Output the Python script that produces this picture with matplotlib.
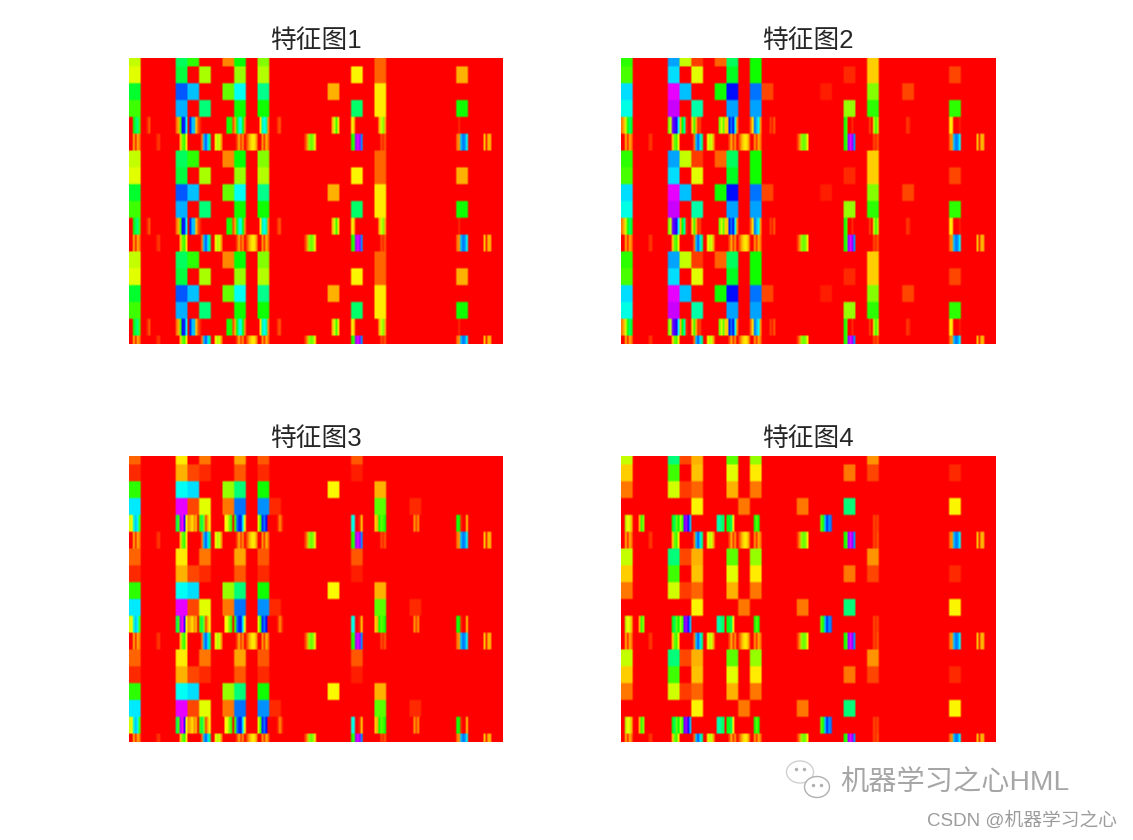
import numpy as np
import matplotlib
matplotlib.use('Agg')
import matplotlib.pyplot as plt
from matplotlib.patches import Ellipse

plt.rcParams['font.family'] = ['Liberation Sans', 'Noto Sans CJK SC']

titles = ['特征图1', '特征图2', '特征图3', '特征图4']

# feature maps repeat every 6 rows, first 4 rows are wide cells {column: value}
map1_wide = [
    {0: .21, 4: .40, 5: .31, 8: .09, 9: .34, 11: .25, 21: .07},
    {0: .19, 4: .38, 6: .23, 9: .24, 11: .22, 19: .165, 21: .07, 28: .12},
    {0: .37, 4: .62, 5: .55, 8: .27, 9: .50, 11: .43, 17: .12, 21: .16},
    {0: .30, 4: .56, 6: .42, 9: .33, 11: .33, 19: .41, 21: .16, 28: .33},
]
map2_wide = [
    {0: .31, 4: .57, 5: .21, 6: .04, 8: .07, 9: .40, 11: .33, 21: .14},
    {0: .29, 4: .53, 6: .19, 9: .36, 11: .33, 19: .03, 21: .14, 28: .05},
    {0: .53, 4: .83, 5: .55, 8: .33, 9: .67, 11: .60, 12: .05, 17: .02, 21: .25, 24: .05},
    {0: .49, 4: .81, 6: .45, 9: .57, 11: .57, 19: .24, 21: .31, 28: .31},
]
map3_wide = [
    {0: .07, 4: .16, 6: .08, 9: .11, 11: .06, 19: .06},
    {0: .03, 4: .12, 5: .05, 6: .03, 9: .06, 11: .03, 19: .02},
    {0: .31, 4: .50, 5: .53, 8: .24, 9: .42, 11: .33, 17: .17, 21: .12},
    {0: .52, 4: .83, 5: .05, 6: .19, 8: .08, 9: .60, 11: .58, 12: .03, 21: .28, 24: .03},
]
map4_wide = [
    {0: .21, 4: .42, 5: .05, 6: .12, 9: .28, 11: .24, 21: .10},
    {0: .14, 4: .30, 6: .13, 9: .19, 11: .16, 19: .08, 21: .05, 28: .03},
    {0: .08, 4: .20, 5: .04, 6: .07, 9: .12, 11: .08},
    {6: .165, 10: .08, 15: .08, 19: .42, 28: .165},
]

# row 5 of the repeat, thin stripes {column: value}
map1_thin = {
    2: .33, 3: .40, 4: .42, 5: .30, 9: .03, 10: .06,
    24: .08, 25: .12, 26: .30, 27: .67, 28: .65, 29: .50,
    31: .65, 32: .55, 33: .55, 34: .13, 35: .06, 36: .03,
    50: .33, 51: .33, 52: .32, 53: .05, 54: .12, 55: .35, 56: .48, 57: .50, 58: .35, 59: .10,
    67: .15, 68: .45, 69: .50, 70: .45, 71: .10, 76: .04, 77: .06,
    104: .12, 105: .20, 106: .30, 107: .15, 114: .17, 115: .14,
    128: .12, 129: .20, 130: .25, 131: .12, 169: .03,
}
map2_thin = {
    0: .08, 1: .12, 2: .20, 3: .33, 4: .42, 5: .36,
    24: .27, 25: .20, 26: .75, 27: .72, 28: .70, 29: .50,
    30: .12, 31: .35, 32: .45, 33: .03, 36: .15, 37: .30, 38: .12, 39: .03, 40: .05,
    50: .27, 51: .20, 52: .27, 53: .14, 54: .14, 55: .66, 56: .60, 57: .67, 58: .50, 59: .10,
    66: .08, 67: .16, 68: .60, 69: .55, 70: .50, 71: .10, 76: .04, 77: .02, 78: .06,
    114: .33, 115: .30, 118: .03, 127: .05, 129: .20, 130: .30, 131: .22,
    146: .04, 147: .03, 168: .16, 169: .16, 173: .02,
}
map3_thin = {
    0: .20, 1: .17, 2: .48, 3: .55, 4: .50, 5: .30,
    24: .40, 25: .30, 26: .80, 27: .85, 28: .72, 29: .18,
    30: .10, 31: .12, 32: .15, 33: .10, 34: .12,
    36: .30, 37: .40, 38: .25, 39: .05, 40: .12, 41: .17,
    49: .17, 50: .18, 51: .25, 52: .30,
    54: .30, 55: .60, 56: .65, 57: .66, 58: .50, 59: .18,
    66: .20, 67: .30, 68: .65, 69: .60, 70: .67, 76: .03, 77: .10, 78: .04,
    114: .48, 115: .50, 118: .03, 119: .14,
    126: .14, 127: .12, 128: .33, 129: .28, 130: .30, 131: .33,
    146: .10, 147: .05, 148: .10, 168: .33, 169: .33, 170: .03, 173: .14,
}
map4_thin = {
    2: .22, 3: .17, 4: .20, 5: .12, 9: .12, 10: .30, 11: .25,
    26: .35, 27: .40, 28: .27, 29: .35,
    30: .22, 31: .30, 32: .75, 33: .78, 34: .70, 35: .55,
    49: .45, 50: .45, 51: .42, 52: .40,
    54: .35, 55: .37, 56: .40, 57: .17, 68: .33, 69: .28, 70: .33,
    102: .28, 103: .32, 104: .55, 105: .65, 106: .58, 107: .60,
    129: .05, 130: .03, 131: .05,
}

# row 6 of the repeat is almost the same in all four maps
last_row = {
    2: .12, 3: .03, 4: .12, 5: .08, 14: .03, 15: .04,
    26: .14, 27: .27, 28: .30, 29: .16,
    37: .08, 38: .55, 39: .62, 40: .53, 41: .42,
    44: .17, 45: .22, 46: .20, 47: .10,
    55: .05, 56: .12, 57: .04, 58: .10,
    60: .05, 61: .10, 62: .14, 63: .16, 64: .15, 65: .10,
    68: .10, 69: .04, 70: .12, 71: .08,
    90: .04, 91: .10, 92: .24, 93: .27, 94: .25, 95: .16,
    114: .33, 115: .30, 116: .78, 117: .83, 118: .78, 119: .58,
    129: .05, 130: .03, 131: .06,
    168: .08, 169: .10, 170: .55, 171: .60, 172: .58, 173: .50,
    182: .13, 183: .03, 184: .12, 185: .12,
}

wide_rows = [map1_wide, map2_wide, map3_wide, map4_wide]
thin_rows = [map1_thin, map2_thin, map3_thin, map4_thin]


def build_map(wide, thin):
    period = np.zeros((6, 192))
    for r, row in enumerate(wide):
        for col, val in row.items():
            period[r, col * 6:(col + 1) * 6] = val
    for col, val in thin.items():
        period[4, col] = val
    for col, val in last_row.items():
        period[5, col] = val
    return np.tile(period, (3, 1))


fig = plt.figure(figsize=(11.33, 8.4), dpi=100)
W, H = 1133, 840
corners = [(129, 58), (621, 58), (129, 456), (621, 456)]

for i in range(4):
    x0, y0 = corners[i]
    ax = fig.add_axes([x0 / W, 1 - (y0 + 286) / H, 374 / W, 286 / H])
    # rows repeated so the soft edge stays about one pixel wide in both directions
    cells = np.repeat(build_map(wide_rows[i], thin_rows[i]), 8, axis=0)
    ax.imshow(cells, cmap='hsv', vmin=0, vmax=1, aspect='auto',
              interpolation='bilinear', interpolation_stage='rgba',
              extent=[-0.5, 191.5, 17.5, -0.5])
    ax.set_ylim(17, 0)
    ax.set_xlim(-0.5, 191.5)
    ax.set_title(titles[i], fontsize=18.5, color='#262626', pad=7)
    ax.axis('off')
    ax.title.set_visible(True)

# watermark layer in pixel coordinates
over = fig.add_axes([0, 0, 1, 1])
over.set_xlim(0, W)
over.set_ylim(H, 0)
over.axis('off')
over.patch.set_alpha(0)
over.add_patch(Ellipse((800, 772), 27, 22, fc='none', ec='#d0d0d0', lw=1))
over.add_patch(Ellipse((817, 787), 25, 21, fc='white', ec='#b0b0b0', lw=1))
over.plot([796, 804, 813, 821], [769, 769, 785, 785], ls='none', marker='o', ms=1.5, c='#b0b0b0')
over.text(840, 784, '机器学习之心HML', fontsize=20.3, color='#a6a6a6', va='center', ha='left')
over.text(1117, 821, 'CSDN @机器学习之心', fontsize=13.5, color='#9c9c9c', va='center', ha='right')

fig.savefig('out.png', dpi=100)
